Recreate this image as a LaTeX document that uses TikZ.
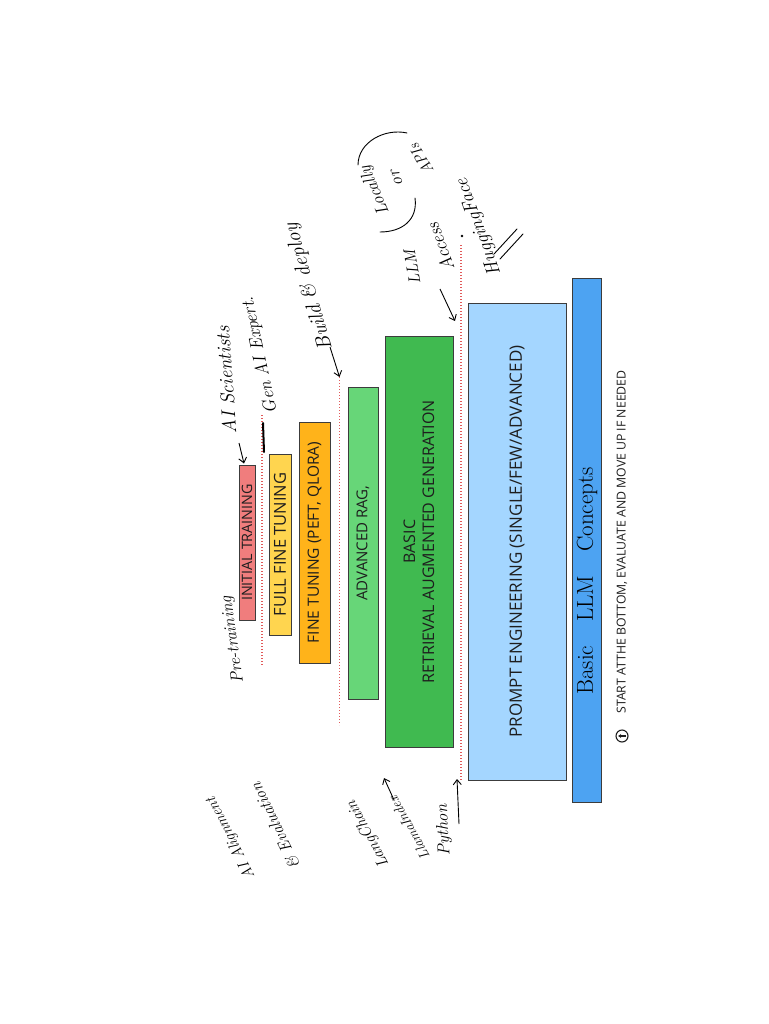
\documentclass[tikz,border=0pt]{standalone}
\usepackage{fontspec}
\newfontfamily\boxfont{Open Sans}
\usetikzlibrary{arrows.meta}
\definecolor{cInit}{RGB}{240,125,125}
\definecolor{cFull}{RGB}{255,213,79}
\definecolor{cPeft}{RGB}{255,179,26}
\definecolor{cAdv}{RGB}{103,214,120}
\definecolor{cRag}{RGB}{64,186,80}
\definecolor{cPrompt}{RGB}{164,214,255}
\definecolor{cLlm}{RGB}{77,163,242}
\definecolor{cEdge}{RGB}{60,60,60}
\definecolor{cGuide}{RGB}{225,90,90}
\definecolor{cText}{RGB}{30,30,30}
\tikzset{
  stage/.style={draw=cEdge, line width=1pt, rotate=90, inner sep=0pt, align=center,
    font=\boxfont\fontsize{15}{18}\selectfont, text=cText},
  fs/.style={font=\boxfont\fontsize{#1}{19}\selectfont},
  hand/.style={font=\itshape\fontsize{#1}{#1}\selectfont, inner sep=0pt, text=black},
  hand/.default=17,
  guide/.style={draw=cGuide, dash pattern=on 1.1pt off 1.9pt, line width=1.1pt},
  pointer/.style={-{Straight Barb[length=5pt,width=8pt]}, line width=0.9pt},
  stroke/.style={line width=0.9pt, line cap=round},
}
\begin{document}
\begin{tikzpicture}[x=1pt,y=-1pt]
\useasboundingbox (0,0) rectangle (768,1024);
\fill[white] (0,0) rectangle (768,1024);

% stages
\node[stage, fill=cLlm, minimum width=524pt, minimum height=29pt] (llm) at (586.5,540) {};
\node[stage, fs=17, fill=cPrompt, minimum width=477pt, minimum height=98pt] (prompt) at (517,541.5) {PROMPT ENGINEERING (SINGLE/FEW/ADVANCED)};
\node[stage, fs=16, fill=cRag, minimum width=411pt, minimum height=68pt] (rag) at (419,541.5) {BASIC\\RETRIEVAL AUGMENTED GENERATION};
\node[stage, fs=15, fill=cAdv, minimum width=312pt, minimum height=30pt] (adv) at (363,543) {ADVANCED RAG,};
\node[stage, fs=15.5, fill=cPeft, minimum width=241pt, minimum height=31pt] (peft) at (314.5,542.5) {FINE TUNING (PEFT, QLORA)};
\node[stage, fs=16.5, fill=cFull, minimum width=181pt, minimum height=22pt] (full) at (280,544.5) {FULL FINE TUNING};
\node[stage, fs=14.3, fill=cInit, minimum width=155pt, minimum height=16pt] (init) at (247,542.5) {INITIAL TRAINING};

\node[font=\fontsize{23}{23}\selectfont, inner sep=0pt, rotate=90] (llmtext) at (587,581) {Basic\hspace{24pt}LLM\hspace{24pt}Concepts};

% guides
\coordinate (g1a) at (262,415); \coordinate (g1b) at (262,665);
\coordinate (g2a) at (339.5,377); \coordinate (g2b) at (339.5,725);
\coordinate (g3a) at (461,245); \coordinate (g3b) at (461,780);
\draw[guide] (g1a) -- (g1b);
\draw[guide] (g2a) -- (g2b);
\draw[guide] (g3a) -- (g3b);

% handwritten labels (top)
\node[hand=19.5, rotate=94] (sci) at (226,380) {AI Scientists};
\node[hand=18, rotate=102] (gen) at (260,355) {Gen AI Expert.};
\node[hand=20.5, rotate=106] (build) at (309,287) {Build \& deploy};
\node[hand=16.5, rotate=100] (llmacc) at (412,267) {LLM};
\node[hand=18.5, rotate=110] (access) at (440,247) {Access};
\node[hand=17.5, rotate=113] (locally) at (375,190) {Locally};
\node[hand=17.5, rotate=110] (or) at (397,178) {or};
\node[hand=15.5, rotate=120] (apis) at (421,159) {APIs};
\node[hand=19, rotate=110] (hf) at (479,227) {HuggingFace};
\node[hand=17, rotate=98] (pre) at (233,640) {Pre-training};

% handwritten labels (bottom)
\node[hand=15.5, rotate=117] (align) at (231,838) {AI Alignment};
\node[hand=16.5, rotate=116] (evalu) at (275,826) {\& Evaluation};
\node[hand=16, rotate=118] (lang) at (368,834) {LangChain};
\node[hand=14, rotate=119] (llama) at (409,828) {LlamaIndex};
\node[hand=17, rotate=93] (python) at (444,830) {Python};

% arrows
\coordinate (sciTail) at (239,443);
\draw[pointer] (sciTail) -- ([xshift=-3pt,yshift=1pt]init.east);
\coordinate (buildTail) at (330,347);
\draw[pointer] (buildTail) -- (g2a);
\coordinate (accTail) at (440,289);
\coordinate (accTip) at (455,321);
\draw[pointer] (accTail) -- (accTip);
\coordinate (llamaTail) at (394,800);
\coordinate (llamaTip) at (384,778);
\draw[pointer] (llamaTail) -- (llamaTip);
\coordinate (pyTail) at (459,824);
\coordinate (pyTip) at (457,779);
\draw[pointer] (pyTail) -- (pyTip);

% pen mark near Gen AI
\coordinate (markA) at (263,423); \coordinate (markB) at (264,452);
\draw[line width=2pt, line cap=round] (markA) -- (markB);

% parentheses around Locally or APIs
\coordinate (pa1) at (358,165); \coordinate (pa2) at (407,133);
\draw[stroke] (pa1) .. controls (358,142) and (385,128) .. (pa2);
\coordinate (pb1) at (380,232); \coordinate (pb2) at (415,198);
\draw[stroke] (pb1) .. controls (402,232) and (418,220) .. (pb2);

% HuggingFace double underline and dot
\coordinate (u1a) at (494,254); \coordinate (u1b) at (517,229);
\coordinate (u2a) at (500,259); \coordinate (u2b) at (523,234);
\draw[stroke] (u1a) -- (u1b);
\draw[stroke] (u2a) -- (u2b);
\fill (462,236) circle (1.3pt);

% footnote
\node[rotate=90, inner sep=0pt, font=\boxfont\fontsize{12.3}{14}\selectfont, text=cText] (note) at (622,542) {START ATTHE BOTTOM, EVALUATE AND MOVE UP IF NEEDED};
\node[circle, draw=cText, line width=1.1pt, minimum size=12pt, inner sep=0pt] (upsym) at (622,736) {};
\draw[-{Stealth[length=3pt,width=4pt]}, line width=1.1pt, cText] ([xshift=3.5pt]upsym.center) -- ([xshift=-3.8pt]upsym.center);
\end{tikzpicture}
\end{document}
